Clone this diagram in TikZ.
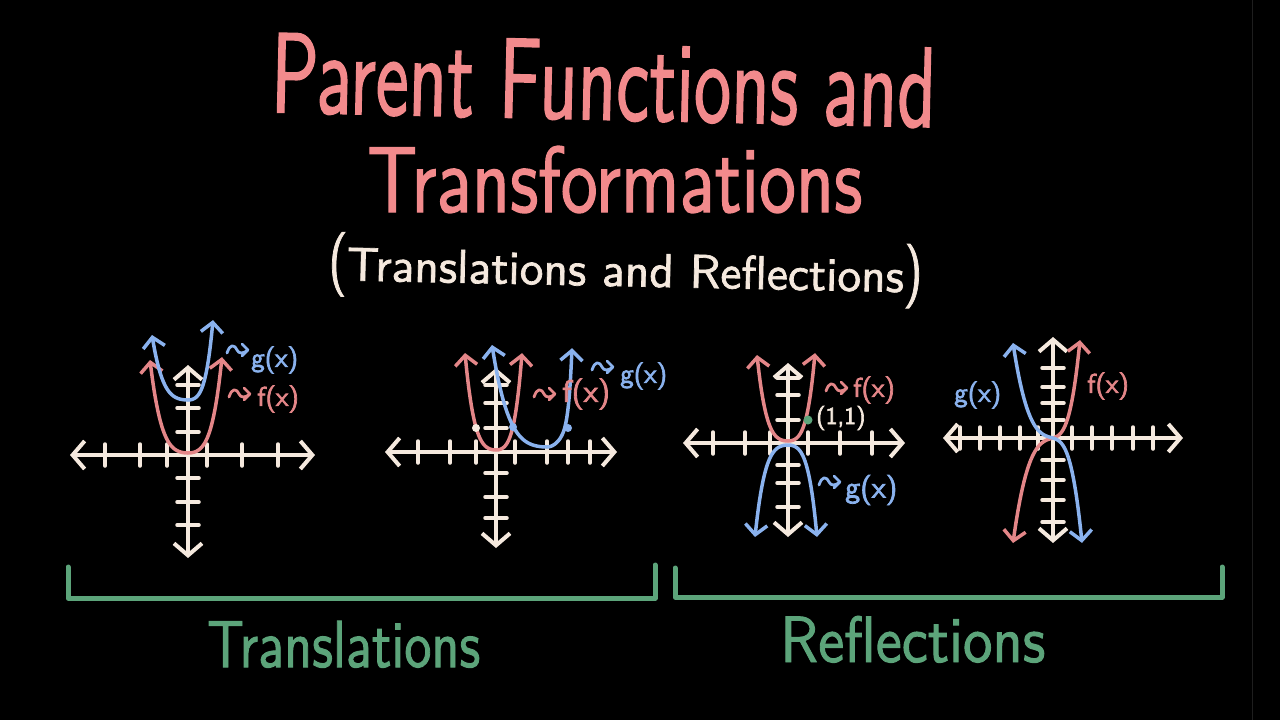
\documentclass[tikz,border=0pt]{standalone}
\usepackage{fontspec}
\usepackage{graphicx}
\usetikzlibrary{arrows.meta}
\newfontfamily\hand{lmsans10-regular.otf}[FakeBold=1.5]
\newfontfamily\handlab{lmsans10-regular.otf}[FakeBold=2.5]
\definecolor{pinkt}{RGB}{242,138,140}
\definecolor{fred}{RGB}{228,134,136}
\definecolor{gblue}{RGB}{138,178,238}
\definecolor{cream}{RGB}{245,233,222}
\definecolor{grn}{RGB}{92,164,122}
\definecolor{faint}{RGB}{30,30,30}
\tikzset{
  axis/.style={draw=cream,line width=4pt,line cap=round,line join=round,
    {Straight Barb[length=12pt,width=28pt]}-{Straight Barb[length=12pt,width=28pt]}},
  tk/.style={draw=cream,line width=3.5pt,line cap=round},
  fcurve/.style={draw=fred,line width=3.5pt,line cap=round,line join=round,
    {Straight Barb[length=10pt,width=22pt]}-{Straight Barb[length=10pt,width=22pt]}},
  gcurve/.style={fcurve,draw=gblue},
  lab/.style={font=\handlab\fontsize{27}{27}\selectfont,inner sep=0pt,anchor=west},
  brk/.style={draw=grn,line width=5pt,line cap=round,line join=round},
  squig/.pic={\draw[line width=2.8pt,line cap=round,line join=round]
     (0,3) .. controls (3,-6) and (7,-6) .. (10,0) .. controls (12,4) and (16,4) .. (21,0)
     (15,-6) -- (21,0) -- (15,6);},
}
\newcommand\drawaxes[8]{%
  \draw[axis] (#3,#2) -- (#4,#2);
  \draw[axis] (#1,#5) -- (#1,#6);
  \foreach \t in {#7} {\draw[tk] (\t,#2-11) -- (\t,#2+11);}
  \foreach \t in {#8} {\draw[tk] (#1-11,\t) -- (#1+11,\t);}
}
\begin{document}
\begin{tikzpicture}[x=1pt,y=-1pt,
  declare function={u(\t)=0.25*\t*\t+0.75*\t*\t*\t*\t; c(\t)=0.1*\t+0.9*\t*\t*\t;}]
\useasboundingbox (0,0) rectangle (1280,720);
\fill[black] (0,0) rectangle (1280,720);
\draw[faint,line width=1pt] (1252,0) -- (1252,720);

% titles
\node[anchor=base west,inner sep=0pt,rotate=-1.3,text=pinkt] (title1) at (270,112)
  {\resizebox{665pt}{79pt}{\hand Parent Functions and}};
\node[anchor=base west,inner sep=0pt,text=pinkt] (title2) at (367,212)
  {\resizebox{495pt}{66pt}{\hand Transformations}};
\node[anchor=base west,inner sep=0pt,rotate=-1.2,text=cream] (subtitle) at (328,280)
  {\resizebox{594pt}{48pt}{\hand\scalebox{1}[1.35]{(}Translations and Reflections\scalebox{1}[1.35]{)}}};

% graph 1
\drawaxes{188}{455}{70}{315}{365}{558}{105,140,167,207,242,278}{385,408,432,478,502,525}
\draw[fcurve] plot[domain=1:0,samples=30] ({188-38*\x},{453-93*u(\x)})
  -- plot[domain=0:1,samples=30] ({188+34*\x},{453-96*u(\x)});
\draw[gcurve] plot[domain=1:0,samples=30] ({188-36*\x},{400-65*u(\x)})
  -- plot[domain=0:1,samples=30] ({188+25*\x},{400-80*u(\x)});
\pic[color=gblue] at (227,350) {squig};
\node[lab,text=gblue] (g1) at (251,360) {g(x)};
\pic[color=fred] at (229,394) {squig};
\node[lab,text=fred] (f1) at (257,399) {f(x)};

% graph 2
\drawaxes{496}{452}{385}{617}{368}{548}{418,450,476,515,547,568,590}{385,403,428,473,497,518}
\draw[fcurve] plot[domain=1:0,samples=30] ({496-31*\x},{450-97*u(\x)})
  -- plot[domain=0:1,samples=30] ({496+26*\x},{450-97*u(\x)});
\draw[gcurve] plot[domain=1:0,samples=30] ({547-55*\x},{447-102*u(\x)})
  -- plot[domain=0:1,samples=30] ({547+25*\x},{447-99*(0.3*\x*\x+0.7*\x^8)});
\fill[cream] (476,428) circle (4);
\fill[gblue] (513,427) circle (4);
\fill[gblue] (568,428) circle (4);
\pic[color=gblue] at (592,367) {squig};
\node[lab,text=gblue] (g2) at (620,376) {g(x)};
\pic[color=fred] at (534,394) {squig};
\node[lab,text=fred,font=\handlab\fontsize{31}{31}\selectfont] (f2) at (562,394) {f(x)};

% graph 3
\drawaxes{788}{443}{683}{905}{363}{537}{713,745,770,808,840,872}{378,395,420,465,483,507}
\draw[fcurve] plot[domain=1:0,samples=30] ({788-31*\x},{441-86*u(\x)})
  -- plot[domain=0:1,samples=30] ({788+27*\x},{441-88*u(\x)});
\draw[gcurve] plot[domain=1:0,samples=30] ({788-33*\x},{445+92*u(\x)})
  -- plot[domain=0:1,samples=30] ({788+29*\x},{445+92*u(\x)});
\fill[grn] (808,420) circle (4.5);
\pic[color=fred] at (826,388) {squig};
\node[lab,text=fred] (f3) at (853,390) {f(x)};
\node[lab,text=cream,font=\handlab\fontsize{24}{24}\selectfont] (p3) at (816,418) {(1,1)};
\pic[color=gblue] at (819,482) {squig};
\node[lab,text=gblue,font=\handlab\fontsize{30}{30}\selectfont] (g3) at (845,490) {g(x)};

% graph 4
\drawaxes{1053}{438}{943}{1183}{337}{543}{960,980,1000,1020,1038,1072,1092,1112,1133,1153}{368,387,403,420,460,480,500,522}
\draw[fcurve] plot[domain=1:0,samples=30] ({1053-40*\x},{438+105*c(\x)})
  -- plot[domain=0:1,samples=30] ({1053+27*\x},{438-98*c(\x)});
\draw[gcurve] plot[domain=1:0,samples=30] ({1053-40*\x},{438-95*c(\x)})
  -- plot[domain=0:1,samples=30] ({1053+29*\x},{438+105*c(\x)});
\node[lab,text=gblue] (g4) at (954,395) {g(x)};
\node[lab,text=fred] (f4) at (1087,386) {f(x)};

% brackets and labels
\draw[brk] (68,567) -- (68,598) -- (655,598) -- (655,565);
\draw[brk] (675,568) -- (675,597) -- (1222,597) -- (1222,567);
\node[anchor=base west,inner sep=0pt,text=grn] (trans) at (207,667)
  {\resizebox{273pt}{46pt}{\hand Translations}};
\node[anchor=base west,inner sep=0pt,text=grn] (refl) at (780,662)
  {\resizebox{265pt}{46pt}{\hand Reflections}};
\end{tikzpicture}
\end{document}
